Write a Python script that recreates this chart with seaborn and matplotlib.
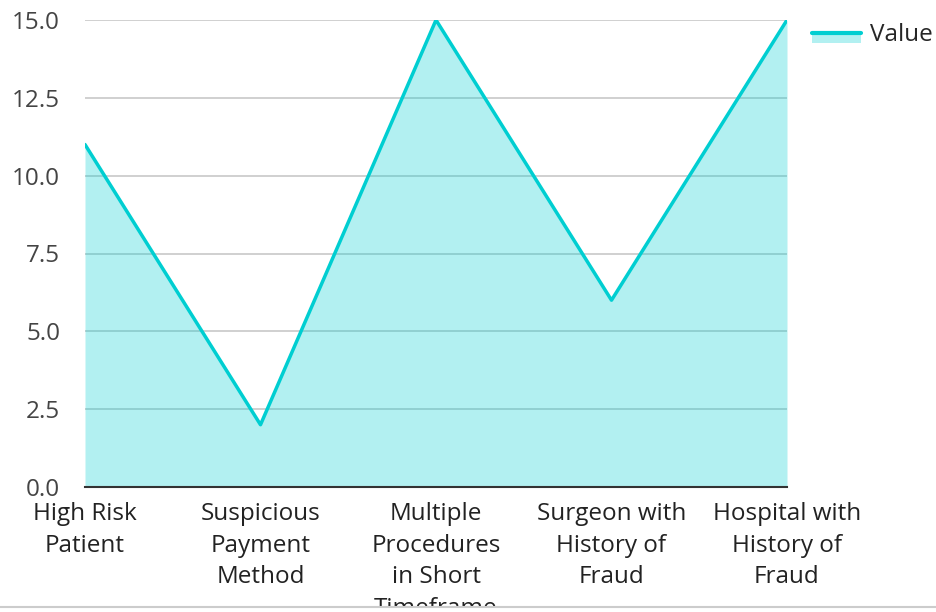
import matplotlib
matplotlib.use("Agg")
import matplotlib.pyplot as plt
import numpy as np
import pandas as pd
import seaborn as sns
from matplotlib.patches import Patch, Rectangle
from matplotlib.lines import Line2D
from matplotlib.legend_handler import HandlerBase

categories = [
    "High Risk\nPatient",
    "Suspicious\nPayment\nMethod",
    "Multiple\nProcedures\nin Short\nTimeframe",
    "Surgeon with\nHistory of\nFraud",
    "Hospital with\nHistory of\nFraud",
]
values = [11, 2, 15, 6, 15]
y_ticks = [0.0, 2.5, 5.0, 7.5, 10.0, 12.5, 15.0]

line_color = "#00CED1"


class AreaHandler(HandlerBase):
    # fill patch hanging below the line
    def create_artists(self, legend, orig, xd, yd, width, height, fontsize, trans):
        mid = -yd + height / 2
        rect = Rectangle((-xd, -yd), width, height / 2, facecolor=line_color,
                         alpha=0.3, linewidth=0, transform=trans)
        ln = Line2D([-xd, -xd + width], [mid, mid], color=line_color,
                    linewidth=3, transform=trans)
        return [rect, ln]


sns.set_theme(style="white")
plt.rcParams["font.family"] = ["Open Sans", "DejaVu Sans"]

df = pd.DataFrame({"category": categories, "value": values})
df["pos"] = np.arange(len(df))

fig = plt.figure(figsize=(9.36, 6.12), dpi=100)
ax = fig.add_axes([85 / 936, 1 - 487 / 612, (787 - 85) / 936, (487 - 20) / 612])

ax.fill_between(df["pos"], df["value"], color=line_color, alpha=0.3, linewidth=0, zorder=1)
sns.lineplot(data=df, x="pos", y="value", color=line_color, linewidth=2.5, ax=ax, zorder=3)

ax.set_xlim(df["pos"].min(), df["pos"].max())
ax.set_ylim(0, 15)
ax.set_yticks(y_ticks)
ax.set_yticklabels([f"{t:.1f}" for t in y_ticks], fontsize=17.5, color="#444444")
ax.set_xticks(df["pos"])
ax.set_xticklabels(df["category"], fontsize=17.5, color="#222222", linespacing=1.42, va="top")
ax.tick_params(axis="x", length=0, pad=11)
ax.tick_params(axis="y", length=0, pad=18)
ax.set_xlabel("")
ax.set_ylabel("")
ax.grid(axis="y", color="#c8c8c8", linewidth=1.2, zorder=0)
ax.set_axisbelow(True)
for s in ["left", "right", "top"]:
    ax.spines[s].set_visible(False)
ax.spines["bottom"].set_color("#333333")
ax.spines["bottom"].set_linewidth(1.5)
ax.spines["bottom"].set_zorder(4)

fig.legend([Patch()], ["Value"], handler_map={Patch: AreaHandler()},
           loc="upper left", bbox_to_anchor=(812 / 936, 1 - 23 / 612), frameon=False,
           fontsize=17.5, handlelength=2.0, handleheight=0.9, handletextpad=0.4,
           borderaxespad=0, borderpad=0)

# clipped bottom edge with thin border
fig.patches.append(Rectangle((0, 0), 1, 5 / 612, transform=fig.transFigure,
                             facecolor="white", edgecolor="none", zorder=10))
fig.add_artist(Line2D([0, 1], [5 / 612, 5 / 612], transform=fig.transFigure,
                      color="#cccccc", linewidth=1.5, zorder=11))

fig.savefig("out.png", dpi=100)
